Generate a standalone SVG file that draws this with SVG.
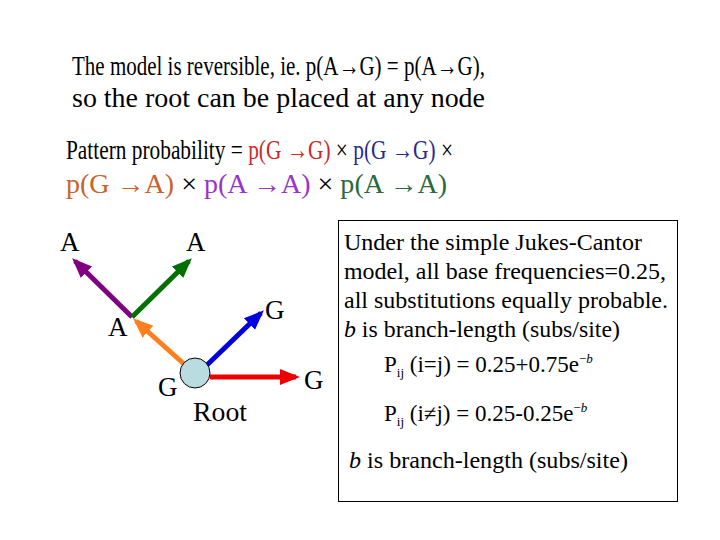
<svg xmlns="http://www.w3.org/2000/svg" width="720" height="540" viewBox="0 0 720 540">
<style>
.t{font-size:27px}
.l{font-size:27px}
.b{font-size:23px}
.e{stroke-width:5;fill:none}
</style>
<defs>
<marker id="m" viewBox="0 0 10 10" refX="8" refY="5" markerWidth="4" markerHeight="4" orient="auto" markerUnits="strokeWidth"><path d="M0,1 L10,5 L0,9 z" fill="context-stroke"/></marker>
</defs>
<rect width="720" height="540" fill="#fff"/>
<g font-family="Liberation Serif, Times New Roman, DejaVu Serif, serif" fill="#000">
<text class="t" x="72" y="75" textLength="413" lengthAdjust="spacingAndGlyphs">The model is reversible, ie. p(A→G) = p(A→G),</text>
<text class="t" x="72" y="107" textLength="413" lengthAdjust="spacingAndGlyphs">so the root can be placed at any node</text>
<text class="t" x="66" y="159" textLength="387" lengthAdjust="spacingAndGlyphs">Pattern probability = <tspan fill="#cc2a2a">p(G →G)</tspan> × <tspan fill="#2a2a8c">p(G →G)</tspan> ×</text>
<text class="t" x="66" y="193" textLength="381" lengthAdjust="spacingAndGlyphs"><tspan fill="#c8642a">p(G →A)</tspan> × <tspan fill="#9933cc">p(A →A)</tspan> × <tspan fill="#2a6a3a">p(A →A)</tspan></text>
<g id="connectors">
<line class="e" x1="184" y1="364" x2="136" y2="321" stroke="#ff7f1e" marker-end="url(#m)"/>
<line class="e" x1="132" y1="317" x2="75" y2="261" stroke="#800080" marker-end="url(#m)"/>
<line class="e" x1="132" y1="317" x2="189" y2="261" stroke="#007000" marker-end="url(#m)"/>
<line class="e" x1="207" y1="365" x2="261" y2="313" stroke="#0000e0" marker-end="url(#m)"/>
<line class="e" x1="210" y1="377" x2="296" y2="377" stroke="#ee0000" marker-end="url(#m)"/>
</g>
<g id="root"><circle cx="195" cy="373" r="15" fill="#b8dce0" stroke="#000" stroke-width="1"/><text class="l" x="158" y="396">G</text><text class="l" x="193" y="421" textLength="54" lengthAdjust="spacingAndGlyphs">Root</text></g>
<g id="leafA1"><text class="l" x="60" y="251">A</text></g>
<g id="leafA2"><text class="l" x="186" y="251">A</text></g>
<g id="nodeA"><text class="l" x="108" y="336">A</text></g>
<g id="leafG1"><text class="l" x="265" y="319">G</text></g>
<g id="leafG2"><text class="l" x="304" y="389">G</text></g>
<g id="box">
<rect x="338.5" y="220.5" width="339" height="281" fill="#fff" stroke="#000" stroke-width="1"/>
<text class="b" x="344" y="250" textLength="298" lengthAdjust="spacingAndGlyphs">Under the simple Jukes-Cantor</text>
<text class="b" x="344" y="279" textLength="322" lengthAdjust="spacingAndGlyphs">model, all base frequencies=0.25,</text>
<text class="b" x="344" y="308" textLength="324" lengthAdjust="spacingAndGlyphs">all substitutions equally probable.</text>
<text class="b" x="344" y="337" textLength="276" lengthAdjust="spacingAndGlyphs"><tspan font-style="italic">b</tspan> is branch-length (subs/site)</text>
<text class="b" x="384" y="372">P<tspan font-size="13" dy="5">ij</tspan><tspan dy="-5"> (i=j) = 0.25+0.75e</tspan><tspan font-size="13" dy="-9">−<tspan font-style="italic">b</tspan></tspan></text>
<text class="b" x="384" y="421">P<tspan font-size="13" dy="5">ij</tspan><tspan dy="-5"> (i≠j) = 0.25-0.25e</tspan><tspan font-size="13" dy="-9">−<tspan font-style="italic">b</tspan></tspan></text>
<text class="b" x="349" y="468" textLength="279" lengthAdjust="spacingAndGlyphs"><tspan font-style="italic">b</tspan> is branch-length (subs/site)</text>
</g>
</g>
</svg>
